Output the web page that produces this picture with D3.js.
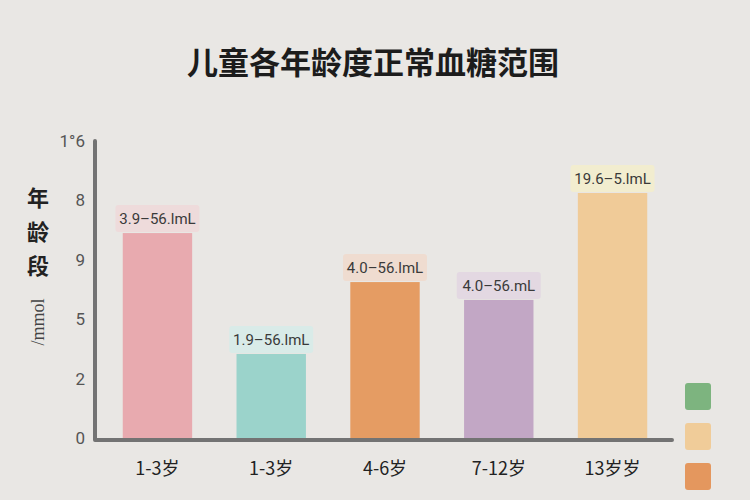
<!DOCTYPE html>
<html><head><meta charset="utf-8">
<script src="https://cdn.jsdelivr.net/npm/d3@7"></script>
<style>
html,body{margin:0;padding:0;background:#e9e7e4;}
svg{display:block;}
</style></head>
<body>
<svg id="chart" width="750" height="500"></svg>
<script>
const categories = ["1-3岁", "1-3岁", "4-6岁", "7-12岁", "13岁岁"];
const values = [6.9, 2.83, 5.25, 4.65, 8.25];
const valueLabels = ["3.9–56.lmL", "1.9–56.lmL", "4.0–56.lmL", "4.0–56.mL", "19.6–5.lmL"];
const barColors = ["#e8aaaf", "#9bd3cb", "#e59c63", "#c2a7c5", "#f0cb98"];
const labelBg = ["#eedbdb", "#d9ebe8", "#efdcd0", "#e3d8e2", "#f2edcf"];
const tickValues = [0, 2, 4, 6, 8, 10];
const tickLabels = ["0", "2", "5", "9", "8", "1°6"];
const legendColors = ["#7db47f", "#f0cc99", "#e4975e"];

const svg = d3.select("#chart");
svg.append("rect").attr("width", 750).attr("height", 500).attr("fill", "#e9e7e4");

const x = d3.scaleBand().domain(d3.range(categories.length)).range([100, 670])
  .paddingInner(0.39).paddingOuter(0.2);
const y = d3.scaleLinear().domain([0, 10]).range([438, 141]);

// title
svg.append("text").attr("x", 373).attr("y", 74).attr("text-anchor", "middle")
  .attr("font-family", "Noto Sans CJK SC").attr("font-weight", "bold")
  .attr("font-size", 31).attr("fill", "#1c1c1c").text("儿童各年龄度正常血糖范围");

// y axis labels
const yAxis = d3.axisLeft(y).tickValues(tickValues)
  .tickFormat((d, i) => tickLabels[i]).tickSize(0).tickPadding(10);
const gy = svg.append("g").attr("transform", "translate(95,0)").call(yAxis);
gy.select(".domain").remove();
gy.selectAll("text").attr("font-family", "Roboto, sans-serif").attr("font-size", 17)
  .attr("fill", "#555");

// x axis labels
const xAxis = d3.axisBottom(x).tickFormat(i => categories[i]).tickSize(0).tickPadding(22);
const gx = svg.append("g").attr("transform", "translate(0,440)").call(xAxis);
gx.select(".domain").remove();
gx.selectAll("text").attr("font-family", "Noto Sans CJK SC").attr("font-size", 18)
  .attr("fill", "#222");

// y title
const yt = svg.append("g").attr("font-family", "Noto Sans CJK SC").attr("font-weight", "bold")
  .attr("font-size", 22).attr("fill", "#222").attr("text-anchor", "middle");
["年", "龄", "段"].forEach((c, i) => yt.append("text").attr("x", 38).attr("y", 206 + i * 34).text(c));
svg.append("text").attr("transform", "translate(44,322) rotate(-90)")
  .attr("text-anchor", "middle").attr("font-family", "Liberation Serif, serif")
  .attr("font-size", 18).attr("fill", "#444").text("/mmol");

// bars
svg.append("g").selectAll("rect").data(values).join("rect")
  .attr("x", (d, i) => x(i)).attr("width", x.bandwidth())
  .attr("y", d => y(d)).attr("height", d => y(0) - y(d))
  .attr("fill", (d, i) => barColors[i]);

// value labels
const lg = svg.append("g").selectAll("g").data(values).join("g");
lg.append("rect")
  .attr("x", (d, i) => x(i) + x.bandwidth() / 2 - 42)
  .attr("y", d => y(d) - 28).attr("width", 84).attr("height", 27).attr("rx", 3)
  .attr("fill", (d, i) => labelBg[i]);
lg.append("text")
  .attr("x", (d, i) => x(i) + x.bandwidth() / 2).attr("y", d => y(d) - 9)
  .attr("text-anchor", "middle").attr("font-family", "Roboto, sans-serif")
  .attr("font-size", 15).attr("fill", "#3a3a3a").text((d, i) => valueLabels[i]);

// axis lines
svg.append("path")
  .attr("d", `M95,${y(10)}V440H672`)
  .attr("fill", "none").attr("stroke", "#737373").attr("stroke-width", 4)
  .attr("stroke-linejoin", "round").attr("stroke-linecap", "round");

// legend
svg.append("g").selectAll("rect").data(legendColors).join("rect")
  .attr("x", 685).attr("y", (d, i) => 383 + i * 40).attr("width", 26).attr("height", 27)
  .attr("rx", 3).attr("fill", d => d);
</script>
</body></html>
